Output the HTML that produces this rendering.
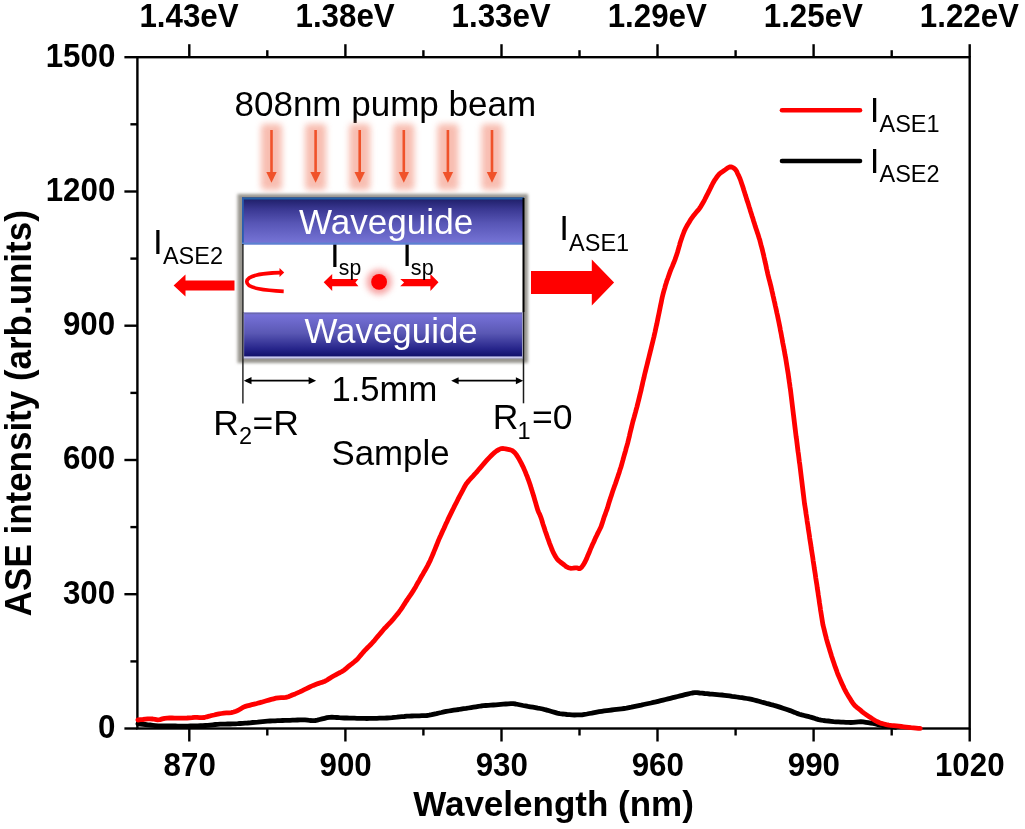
<!DOCTYPE html>
<html><head><meta charset="utf-8"><style>
html,body{margin:0;padding:0;background:#fff;}
svg{display:block;}
</style></head><body>
<svg width="1025" height="829" viewBox="0 0 1025 829">
<defs>
<filter id="glow" x="-1" y="-1" width="3" height="3"><feGaussianBlur stdDeviation="3.2"/></filter>
<filter id="glow2" x="-1" y="-1" width="3" height="3"><feGaussianBlur stdDeviation="3"/></filter>
<filter id="sh" x="-0.2" y="-0.2" width="1.4" height="1.4"><feGaussianBlur stdDeviation="1.5"/></filter>
<linearGradient id="gtop" x1="0" y1="0" x2="0" y2="1"><stop offset="0" stop-color="#1c1c64"/><stop offset="0.25" stop-color="#3a3892"/><stop offset="0.55" stop-color="#5856b6"/><stop offset="1" stop-color="#7876d8"/></linearGradient>
<linearGradient id="gbot" x1="0" y1="0" x2="0" y2="1"><stop offset="0" stop-color="#7a74dc"/><stop offset="0.45" stop-color="#5a58b4"/><stop offset="0.8" stop-color="#26248a"/><stop offset="1" stop-color="#0c0c62"/></linearGradient>
</defs>
<rect width="1025" height="829" fill="#fff"/>
<rect x="137.4" y="57.2" width="832.3000000000001" height="671.3" fill="none" stroke="#000" stroke-width="2.4"/>
<line x1="189.3" y1="728.5" x2="189.3" y2="741.5" stroke="#000" stroke-width="2.4"/>
<line x1="189.3" y1="57.2" x2="189.3" y2="44.2" stroke="#000" stroke-width="2.4"/>
<text transform="translate(163.62,775.50) scale(1,1.038)" font-family="'Liberation Sans', Arial, sans-serif" font-weight="bold" font-size="31.30" fill="#000">870</text>
<text transform="translate(139.41,27.30) scale(1,1.038)" font-family="'Liberation Sans', Arial, sans-serif" font-weight="bold" font-size="31.30" fill="#000">1.43eV</text>
<line x1="345.4" y1="728.5" x2="345.4" y2="741.5" stroke="#000" stroke-width="2.4"/>
<line x1="345.4" y1="57.2" x2="345.4" y2="44.2" stroke="#000" stroke-width="2.4"/>
<text transform="translate(319.55,775.50) scale(1,1.038)" font-family="'Liberation Sans', Arial, sans-serif" font-weight="bold" font-size="31.30" fill="#000">900</text>
<text transform="translate(295.49,27.30) scale(1,1.038)" font-family="'Liberation Sans', Arial, sans-serif" font-weight="bold" font-size="31.30" fill="#000">1.38eV</text>
<line x1="501.5" y1="728.5" x2="501.5" y2="741.5" stroke="#000" stroke-width="2.4"/>
<line x1="501.5" y1="57.2" x2="501.5" y2="44.2" stroke="#000" stroke-width="2.4"/>
<text transform="translate(475.63,775.50) scale(1,1.038)" font-family="'Liberation Sans', Arial, sans-serif" font-weight="bold" font-size="31.30" fill="#000">930</text>
<text transform="translate(451.57,27.30) scale(1,1.038)" font-family="'Liberation Sans', Arial, sans-serif" font-weight="bold" font-size="31.30" fill="#000">1.33eV</text>
<line x1="657.5" y1="728.5" x2="657.5" y2="741.5" stroke="#000" stroke-width="2.4"/>
<line x1="657.5" y1="57.2" x2="657.5" y2="44.2" stroke="#000" stroke-width="2.4"/>
<text transform="translate(631.71,775.50) scale(1,1.038)" font-family="'Liberation Sans', Arial, sans-serif" font-weight="bold" font-size="31.30" fill="#000">960</text>
<text transform="translate(607.65,27.30) scale(1,1.038)" font-family="'Liberation Sans', Arial, sans-serif" font-weight="bold" font-size="31.30" fill="#000">1.29eV</text>
<line x1="813.6" y1="728.5" x2="813.6" y2="741.5" stroke="#000" stroke-width="2.4"/>
<line x1="813.6" y1="57.2" x2="813.6" y2="44.2" stroke="#000" stroke-width="2.4"/>
<text transform="translate(787.79,775.50) scale(1,1.038)" font-family="'Liberation Sans', Arial, sans-serif" font-weight="bold" font-size="31.30" fill="#000">990</text>
<text transform="translate(763.73,27.30) scale(1,1.038)" font-family="'Liberation Sans', Arial, sans-serif" font-weight="bold" font-size="31.30" fill="#000">1.25eV</text>
<line x1="969.7" y1="728.5" x2="969.7" y2="741.5" stroke="#000" stroke-width="2.4"/>
<line x1="969.7" y1="57.2" x2="969.7" y2="44.2" stroke="#000" stroke-width="2.4"/>
<text transform="translate(934.95,775.50) scale(1,1.038)" font-family="'Liberation Sans', Arial, sans-serif" font-weight="bold" font-size="31.30" fill="#000">1020</text>
<text transform="translate(919.81,27.30) scale(1,1.038)" font-family="'Liberation Sans', Arial, sans-serif" font-weight="bold" font-size="31.30" fill="#000">1.22eV</text>
<line x1="267.3" y1="728.5" x2="267.3" y2="735.5" stroke="#000" stroke-width="2.4"/>
<line x1="267.3" y1="57.2" x2="267.3" y2="50.2" stroke="#000" stroke-width="2.4"/>
<line x1="423.4" y1="728.5" x2="423.4" y2="735.5" stroke="#000" stroke-width="2.4"/>
<line x1="423.4" y1="57.2" x2="423.4" y2="50.2" stroke="#000" stroke-width="2.4"/>
<line x1="579.5" y1="728.5" x2="579.5" y2="735.5" stroke="#000" stroke-width="2.4"/>
<line x1="579.5" y1="57.2" x2="579.5" y2="50.2" stroke="#000" stroke-width="2.4"/>
<line x1="735.6" y1="728.5" x2="735.6" y2="735.5" stroke="#000" stroke-width="2.4"/>
<line x1="735.6" y1="57.2" x2="735.6" y2="50.2" stroke="#000" stroke-width="2.4"/>
<line x1="891.7" y1="728.5" x2="891.7" y2="735.5" stroke="#000" stroke-width="2.4"/>
<line x1="891.7" y1="57.2" x2="891.7" y2="50.2" stroke="#000" stroke-width="2.4"/>
<line x1="137.4" y1="728.5" x2="124.4" y2="728.5" stroke="#000" stroke-width="2.4"/>
<text transform="translate(97.94,738.00) scale(1,1.038)" font-family="'Liberation Sans', Arial, sans-serif" font-weight="bold" font-size="31.30" fill="#000">0</text>
<line x1="137.4" y1="594.2" x2="124.4" y2="594.2" stroke="#000" stroke-width="2.4"/>
<text transform="translate(62.88,603.74) scale(1,1.038)" font-family="'Liberation Sans', Arial, sans-serif" font-weight="bold" font-size="31.30" fill="#000">300</text>
<line x1="137.4" y1="460.0" x2="124.4" y2="460.0" stroke="#000" stroke-width="2.4"/>
<text transform="translate(62.88,469.48) scale(1,1.038)" font-family="'Liberation Sans', Arial, sans-serif" font-weight="bold" font-size="31.30" fill="#000">600</text>
<line x1="137.4" y1="325.7" x2="124.4" y2="325.7" stroke="#000" stroke-width="2.4"/>
<text transform="translate(62.88,335.22) scale(1,1.038)" font-family="'Liberation Sans', Arial, sans-serif" font-weight="bold" font-size="31.30" fill="#000">900</text>
<line x1="137.4" y1="191.5" x2="124.4" y2="191.5" stroke="#000" stroke-width="2.4"/>
<text transform="translate(45.67,200.96) scale(1,1.038)" font-family="'Liberation Sans', Arial, sans-serif" font-weight="bold" font-size="31.30" fill="#000">1200</text>
<line x1="137.4" y1="57.2" x2="124.4" y2="57.2" stroke="#000" stroke-width="2.4"/>
<text transform="translate(45.67,66.70) scale(1,1.038)" font-family="'Liberation Sans', Arial, sans-serif" font-weight="bold" font-size="31.30" fill="#000">1500</text>
<line x1="137.4" y1="661.4" x2="130.4" y2="661.4" stroke="#000" stroke-width="2.4"/>
<line x1="137.4" y1="527.1" x2="130.4" y2="527.1" stroke="#000" stroke-width="2.4"/>
<line x1="137.4" y1="392.9" x2="130.4" y2="392.9" stroke="#000" stroke-width="2.4"/>
<line x1="137.4" y1="258.6" x2="130.4" y2="258.6" stroke="#000" stroke-width="2.4"/>
<line x1="137.4" y1="124.3" x2="130.4" y2="124.3" stroke="#000" stroke-width="2.4"/>
<text transform="translate(413.20,816.30)" font-family="'Liberation Sans', Arial, sans-serif" font-weight="bold" font-size="35.00" fill="#000">Wavelength (nm)</text>
<g transform="translate(30.50,615.10) rotate(-90)"><text transform="translate(-1.05,0) scale(1,1.030)" font-family="'Liberation Sans', Arial, sans-serif" font-weight="bold" font-size="34.97" fill="#000">ASE intensity (arb.units)</text></g>
<polyline points="137.9,723.9 140.5,724.1 142.9,724.3 145.4,724.5 147.9,724.8 150.3,725.0 152.8,725.3 155.3,725.6 157.8,725.9 160.3,726.0 162.8,726.0 165.3,726.0 167.8,726.0 170.3,726.0 172.8,725.9 175.3,726.0 177.8,726.1 180.3,726.2 182.8,726.2 185.3,726.2 187.8,726.1 190.3,726.0 192.8,725.9 195.3,725.8 197.8,725.8 200.3,725.7 202.8,725.6 205.3,725.5 207.8,725.4 210.2,725.1 212.7,724.8 215.2,724.5 217.7,724.3 220.2,724.2 222.7,724.1 225.2,724.1 227.7,724.0 230.2,724.0 232.7,723.9 235.2,723.8 237.7,723.7 240.2,723.5 242.7,723.3 245.2,723.1 247.6,723.0 250.1,722.8 252.6,722.5 255.1,722.3 257.6,722.1 260.1,721.8 262.6,721.6 265.1,721.4 267.6,721.2 270.1,721.0 272.6,720.9 275.1,720.8 277.6,720.7 280.1,720.6 282.6,720.5 285.0,720.4 287.5,720.3 290.0,720.3 292.5,720.2 295.0,720.1 297.5,720.0 300.0,719.9 302.5,719.8 305.0,719.9 307.5,720.1 310.0,720.5 312.4,720.7 314.9,720.6 317.3,720.1 319.7,719.5 322.1,718.9 324.6,718.3 327.0,717.7 329.4,717.3 331.9,717.2 334.4,717.3 336.9,717.5 339.4,717.7 341.9,717.8 344.4,718.0 346.9,718.0 349.4,718.1 351.9,718.2 354.4,718.2 356.9,718.3 359.4,718.3 361.9,718.4 364.4,718.4 366.9,718.5 369.4,718.4 371.9,718.4 374.4,718.3 376.9,718.3 379.4,718.2 381.9,718.2 384.4,718.1 386.9,718.0 389.4,717.9 391.9,717.7 394.3,717.4 396.8,717.2 399.3,716.9 401.8,716.7 404.3,716.5 406.8,716.2 409.3,716.1 411.8,716.0 414.3,715.9 416.8,715.9 419.3,715.8 421.8,715.7 424.3,715.7 426.8,715.5 429.2,715.2 431.7,714.7 434.1,714.1 436.5,713.6 439.0,713.0 441.4,712.5 443.9,711.9 446.3,711.4 448.8,711.0 451.2,710.6 453.7,710.2 456.2,709.8 458.7,709.5 461.1,709.1 463.6,708.7 466.1,708.4 468.5,708.0 471.0,707.6 473.5,707.2 475.9,706.8 478.4,706.4 480.9,706.0 483.4,705.7 485.9,705.5 488.3,705.4 490.8,705.2 493.3,705.0 495.8,704.8 498.3,704.6 500.8,704.4 503.3,704.2 505.8,704.0 508.3,703.8 510.8,703.6 513.3,703.7 515.7,704.0 518.2,704.5 520.6,705.0 523.1,705.5 525.5,705.9 528.0,706.4 530.4,706.8 532.9,707.2 535.4,707.6 537.8,708.1 540.3,708.5 542.7,709.0 545.2,709.7 547.6,710.3 550.0,711.0 552.4,711.7 554.8,712.4 557.2,713.1 559.6,713.6 562.1,714.0 564.6,714.2 567.0,714.5 569.5,714.7 572.0,714.9 574.5,715.0 577.0,714.9 579.5,714.9 582.0,714.8 584.5,714.4 586.9,714.0 589.4,713.5 591.8,713.1 594.3,712.6 596.8,712.1 599.2,711.7 601.7,711.3 604.2,710.9 606.6,710.6 609.1,710.3 611.6,710.0 614.1,709.7 616.6,709.4 619.0,709.1 621.5,708.8 624.0,708.5 626.5,708.2 628.9,707.7 631.4,707.2 633.8,706.6 636.3,706.1 638.7,705.6 641.2,705.1 643.6,704.5 646.0,704.0 648.5,703.5 650.9,703.0 653.4,702.4 655.8,701.9 658.2,701.3 660.7,700.7 663.1,700.1 665.5,699.5 668.0,698.9 670.4,698.3 672.8,697.7 675.2,697.1 677.7,696.5 680.1,695.9 682.5,695.3 684.9,694.7 687.4,694.1 689.8,693.5 692.2,693.0 694.7,692.7 697.2,692.7 699.6,693.0 702.1,693.2 704.6,693.5 707.1,693.7 709.6,694.0 712.1,694.2 714.6,694.4 717.1,694.6 719.5,694.8 722.0,695.0 724.5,695.3 727.0,695.6 729.5,695.9 732.0,696.3 734.4,696.6 736.9,697.0 739.4,697.4 741.9,697.7 744.3,698.1 746.8,698.5 749.3,698.9 751.7,699.4 754.1,700.0 756.5,700.6 758.9,701.3 761.4,702.0 763.8,702.6 766.2,703.3 768.6,703.9 771.0,704.6 773.4,705.2 775.8,705.9 778.2,706.6 780.6,707.4 783.0,708.2 785.4,709.0 787.7,709.8 790.1,710.6 792.4,711.5 794.7,712.4 797.0,713.4 799.4,714.2 801.8,714.9 804.2,715.5 806.6,716.1 809.1,716.7 811.5,717.4 813.9,718.1 816.2,718.9 818.6,719.6 821.1,720.1 823.5,720.5 826.0,720.8 828.5,721.0 831.0,721.3 833.5,721.6 836.0,721.8 838.5,721.9 841.0,722.1 843.4,722.2 845.9,722.3 848.4,722.4 850.9,722.5 853.4,722.4 855.9,722.1 858.4,721.8 860.8,721.7 863.3,721.9 865.8,722.3 868.2,722.7 870.7,723.1 873.2,723.5 875.6,724.0 878.0,724.6 880.5,725.2 882.9,725.7 885.4,726.0 887.9,726.3 890.4,726.6 892.7,726.9 895.8,727.3" fill="none" stroke="#000" stroke-width="4.8" stroke-linejoin="round" stroke-linecap="round"/>
<polyline points="137.9,720.0 140.5,719.7 142.9,719.5 145.4,719.2 147.8,718.9 150.3,718.8 152.8,719.0 155.2,719.4 157.6,719.8 160.0,719.6 162.3,718.9 164.7,718.3 167.1,718.1 169.6,718.0 172.1,718.0 174.6,718.1 177.1,718.2 179.6,718.2 182.1,718.2 184.6,718.1 187.1,718.0 189.6,717.8 192.1,717.6 194.6,717.3 197.0,717.4 199.5,717.6 202.0,717.7 204.4,717.5 206.8,716.8 209.2,716.2 211.6,715.5 214.1,715.0 216.5,714.4 219.0,713.9 221.4,713.5 223.9,713.1 226.4,712.9 228.8,712.9 231.3,712.6 233.7,712.0 236.0,711.2 238.3,710.3 240.4,709.0 242.5,707.7 244.7,706.6 247.1,705.9 249.5,705.3 251.9,704.7 254.3,704.1 256.8,703.5 259.2,702.8 261.6,702.2 264.0,701.5 266.4,700.8 268.8,700.1 271.2,699.4 273.6,698.8 276.0,698.2 278.5,697.8 281.0,697.7 283.5,697.7 285.9,697.4 288.3,696.7 290.6,695.8 292.9,694.8 295.2,693.9 297.5,692.9 299.8,691.9 302.0,690.8 304.3,689.7 306.5,688.6 308.8,687.5 311.0,686.4 313.3,685.4 315.6,684.5 318.0,683.6 320.4,682.8 322.7,682.1 325.0,681.2 327.2,680.0 329.3,678.6 331.4,677.3 333.5,676.0 335.7,674.8 337.9,673.6 340.1,672.5 342.3,671.3 344.4,669.9 346.3,668.3 348.2,666.7 350.1,665.1 352.1,663.6 354.1,662.0 356.0,660.4 357.8,658.7 359.4,656.8 361.0,654.9 362.6,653.0 364.2,651.1 366.0,649.3 367.7,647.5 369.5,645.8 371.3,644.0 372.9,642.2 374.6,640.3 376.2,638.3 377.8,636.4 379.4,634.5 381.0,632.6 382.6,630.7 384.2,628.8 386.0,627.0 387.7,625.2 389.4,623.4 391.1,621.6 392.8,619.7 394.4,617.7 396.0,615.8 397.5,613.9 399.1,611.9 400.6,609.9 402.0,607.9 403.3,605.8 404.7,603.6 406.0,601.5 407.4,599.5 408.8,597.4 410.2,595.4 411.6,593.3 413.0,591.2 414.3,589.0 415.6,586.9 416.8,584.7 418.0,582.5 419.3,580.4 420.5,578.2 421.7,576.0 423.0,573.9 424.2,571.7 425.5,569.5 426.7,567.3 427.9,565.1 429.0,562.9 430.1,560.7 431.1,558.4 432.1,556.1 433.1,553.8 434.0,551.5 435.0,549.1 435.9,546.8 436.9,544.5 437.8,542.2 438.7,539.9 439.7,537.6 440.8,535.3 441.8,533.0 442.8,530.8 443.9,528.5 444.9,526.2 445.9,523.9 447.0,521.7 448.0,519.4 449.1,517.1 450.2,514.9 451.3,512.6 452.4,510.4 453.5,508.2 454.6,505.9 455.8,503.7 456.9,501.5 458.0,499.2 459.2,497.0 460.3,494.8 461.5,492.6 462.7,490.4 463.8,488.2 465.0,486.0 466.3,483.8 467.8,481.9 469.4,480.0 471.1,478.1 472.8,476.3 474.5,474.4 476.2,472.6 477.8,470.7 479.4,468.8 481.1,466.9 482.7,465.0 484.3,463.1 486.0,461.2 487.6,459.4 489.3,457.6 491.1,455.8 492.9,454.0 494.7,452.4 496.7,450.9 498.8,449.6 501.0,448.6 503.3,448.5 505.6,448.9 508.0,449.4 510.4,449.9 512.6,450.8 514.4,452.3 516.0,454.2 517.4,456.3 518.7,458.4 519.9,460.6 521.1,462.8 522.2,465.1 523.3,467.3 524.3,469.6 525.3,471.9 526.2,474.2 527.2,476.5 528.0,478.9 528.9,481.2 529.7,483.6 530.5,485.9 531.2,488.3 532.0,490.7 532.7,493.1 533.5,495.5 534.2,497.9 534.9,500.3 535.6,502.7 536.3,505.1 537.0,507.5 537.7,509.9 538.6,512.2 539.7,514.4 540.6,516.7 541.5,519.1 542.2,521.5 542.9,523.9 543.7,526.3 544.5,528.6 545.2,531.0 546.1,533.4 546.9,535.7 547.7,538.1 548.6,540.4 549.4,542.8 550.3,545.1 551.2,547.4 552.1,549.8 553.1,552.1 554.3,554.3 555.5,556.5 556.8,558.6 558.4,560.4 560.3,562.0 562.3,563.5 564.3,565.0 566.2,566.6 568.3,567.7 570.6,568.3 573.0,568.2 575.3,567.8 577.2,567.8 578.7,568.5 580.1,568.5 581.7,567.1 583.1,565.2 584.4,563.1 585.5,560.9 586.6,558.6 587.5,556.3 588.5,554.0 589.5,551.7 590.4,549.4 591.4,547.1 592.4,544.8 593.5,542.5 594.5,540.2 595.5,537.9 596.6,535.7 597.7,533.4 598.8,531.2 599.9,529.0 601.0,526.7 601.8,524.4 602.6,522.0 603.4,519.6 604.1,517.2 605.0,514.9 605.8,512.5 606.7,510.2 607.5,507.8 608.2,505.4 608.9,503.0 609.7,500.6 610.4,498.3 611.2,495.9 612.0,493.5 612.8,491.1 613.6,488.8 614.4,486.4 615.3,484.1 616.1,481.7 616.9,479.3 617.7,477.0 618.5,474.6 619.3,472.2 620.0,469.8 620.8,467.5 621.5,465.1 622.2,462.7 622.9,460.2 623.5,457.8 624.2,455.4 624.9,453.0 625.6,450.6 626.2,448.2 626.9,445.8 627.6,443.4 628.2,441.0 628.8,438.5 629.4,436.1 629.9,433.7 630.5,431.2 631.1,428.8 631.7,426.4 632.3,424.0 632.9,421.5 633.6,419.1 634.3,416.7 634.9,414.3 635.6,411.9 636.2,409.5 636.9,407.1 637.5,404.7 638.1,402.2 638.7,399.8 639.3,397.4 639.9,394.9 640.5,392.5 641.1,390.1 641.6,387.6 642.2,385.2 642.7,382.8 643.3,380.3 643.9,377.9 644.4,375.5 645.0,373.0 645.6,370.6 646.2,368.2 646.8,365.7 647.4,363.3 648.0,360.9 648.6,358.5 649.2,356.0 649.8,353.6 650.4,351.2 651.0,348.8 651.6,346.3 652.2,343.9 652.8,341.5 653.4,339.0 654.0,336.6 654.5,334.2 655.1,331.7 655.6,329.3 656.1,326.9 656.7,324.4 657.2,322.0 657.7,319.5 658.2,317.1 658.7,314.6 659.2,312.2 659.7,309.7 660.2,307.3 660.7,304.8 661.2,302.4 661.7,299.9 662.2,297.5 662.8,295.0 663.4,292.6 664.1,290.2 664.8,287.8 665.4,285.4 666.2,283.0 666.9,280.6 667.8,278.3 668.6,275.9 669.4,273.6 670.3,271.2 671.2,268.9 672.2,266.6 673.1,264.3 674.1,262.0 675.0,259.6 675.8,257.3 676.6,254.9 677.4,252.5 678.1,250.1 678.8,247.7 679.5,245.3 680.1,242.9 680.9,240.5 681.7,238.2 682.5,235.8 683.4,233.5 684.3,231.1 685.3,228.9 686.5,226.7 687.7,224.5 689.0,222.4 690.3,220.2 691.7,218.2 693.2,216.1 694.7,214.2 696.3,212.3 697.9,210.4 699.5,208.4 700.9,206.3 702.1,204.2 703.4,202.0 704.6,199.8 705.7,197.6 706.8,195.4 708.0,193.1 709.1,190.9 710.2,188.7 711.3,186.4 712.4,184.2 713.6,182.0 714.9,179.8 716.3,177.8 717.8,175.8 719.4,173.9 721.3,172.4 723.4,171.0 725.4,169.6 727.4,168.1 729.4,167.0 731.4,166.9 733.5,167.9 735.3,169.4 736.7,171.4 737.7,173.7 738.8,175.9 739.8,178.2 740.7,180.5 741.5,182.9 742.3,185.3 743.1,187.6 743.8,190.0 744.6,192.4 745.3,194.8 746.1,197.2 746.8,199.6 747.6,201.9 748.4,204.3 749.1,206.7 749.9,209.1 750.6,211.5 751.4,213.9 752.1,216.2 752.9,218.6 753.6,221.0 754.4,223.4 755.1,225.8 755.9,228.2 756.7,230.5 757.5,232.9 758.3,235.3 759.0,237.7 759.8,240.1 760.4,242.5 761.0,244.9 761.7,247.3 762.3,249.7 762.9,252.2 763.5,254.6 764.0,257.0 764.6,259.5 765.1,261.9 765.7,264.3 766.2,266.8 766.7,269.2 767.3,271.7 767.8,274.1 768.4,276.5 769.0,278.9 769.7,281.4 770.3,283.8 770.9,286.2 771.5,288.7 772.0,291.1 772.6,293.5 773.1,296.0 773.7,298.4 774.2,300.8 774.8,303.3 775.3,305.7 775.9,308.2 776.4,310.6 776.9,313.0 777.5,315.5 778.0,317.9 778.5,320.4 779.0,322.8 779.5,325.3 780.0,327.7 780.4,330.2 780.9,332.6 781.4,335.1 781.8,337.6 782.3,340.0 782.7,342.5 783.2,344.9 783.7,347.4 784.1,349.8 784.6,352.3 785.0,354.8 785.5,357.2 785.9,359.7 786.3,362.2 786.7,364.6 787.1,367.1 787.5,369.6 787.9,372.0 788.3,374.5 788.6,377.0 789.0,379.5 789.3,381.9 789.7,384.4 790.0,386.9 790.4,389.4 790.7,391.8 791.0,394.3 791.3,396.8 791.6,399.3 791.9,401.8 792.2,404.2 792.5,406.7 792.8,409.2 793.1,411.7 793.4,414.2 793.7,416.6 794.0,419.1 794.3,421.6 794.6,424.1 794.9,426.6 795.2,429.1 795.5,431.5 795.8,434.0 796.1,436.5 796.5,439.0 796.8,441.5 797.1,443.9 797.4,446.4 797.7,448.9 798.0,451.4 798.4,453.9 798.7,456.3 799.0,458.8 799.3,461.3 799.7,463.8 800.0,466.3 800.3,468.7 800.6,471.2 800.9,473.7 801.2,476.2 801.5,478.7 801.8,481.1 802.1,483.6 802.4,486.1 802.7,488.6 803.0,491.1 803.3,493.6 803.6,496.0 803.9,498.5 804.2,501.0 804.5,503.5 804.9,505.9 805.3,508.4 805.7,510.9 806.0,513.4 806.4,515.8 806.8,518.3 807.1,520.8 807.5,523.3 807.9,525.7 808.2,528.2 808.6,530.7 809.0,533.1 809.4,535.6 809.7,538.1 810.1,540.6 810.5,543.0 810.9,545.5 811.2,548.0 811.6,550.4 812.0,552.9 812.4,555.4 812.8,557.9 813.1,560.3 813.5,562.8 813.9,565.3 814.2,567.7 814.6,570.2 815.0,572.7 815.4,575.2 815.7,577.6 816.1,580.1 816.5,582.6 816.9,585.0 817.2,587.5 817.6,590.0 818.0,592.5 818.3,594.9 818.7,597.4 819.1,599.9 819.4,602.4 819.8,604.8 820.2,607.3 820.5,609.8 820.9,612.2 821.3,614.7 821.7,617.2 822.1,619.7 822.5,622.1 822.9,624.6 823.5,627.0 824.1,629.4 824.7,631.9 825.3,634.3 825.9,636.7 826.5,639.1 827.2,641.6 827.9,644.0 828.6,646.3 829.3,648.7 830.0,651.1 830.8,653.5 831.5,655.9 832.3,658.3 833.1,660.7 833.9,663.0 834.7,665.4 835.5,667.7 836.4,670.1 837.2,672.5 838.1,674.8 839.1,677.1 840.1,679.4 841.1,681.7 842.1,683.9 843.2,686.2 844.2,688.5 845.3,690.7 846.5,692.9 847.8,695.1 849.1,697.2 850.4,699.3 851.7,701.4 853.1,703.5 854.7,705.4 856.5,707.1 858.5,708.7 860.4,710.2 862.3,711.8 864.3,713.4 866.3,714.8 868.4,716.2 870.5,717.6 872.6,719.0 874.7,720.3 876.9,721.5 879.1,722.5 881.5,723.4 883.9,724.0 886.3,724.6 888.8,725.1 891.2,725.4 893.7,725.6 896.2,725.9 898.7,726.2 901.2,726.5 903.7,726.8 906.1,727.1 908.6,727.4 911.1,727.7 913.6,727.9 916.1,728.1 918.3,728.3 920.2,728.4" fill="none" stroke="#f00" stroke-width="4.8" stroke-linejoin="round" stroke-linecap="round"/>
<line x1="782" y1="110.2" x2="860" y2="110.2" stroke="#f00" stroke-width="4.6" stroke-linecap="round"/>
<line x1="782" y1="161" x2="860" y2="161" stroke="#000" stroke-width="4.6" stroke-linecap="round"/>
<text transform="translate(869.65,122.00) scale(1,1.002)" font-family="'Liberation Sans', Arial, sans-serif" font-weight="normal" font-size="35.00" fill="#000">I</text>
<text transform="translate(879.50,132.20) scale(1,1.040)" font-family="'Liberation Sans', Arial, sans-serif" font-weight="normal" font-size="23.50" fill="#000">ASE1</text>
<text transform="translate(869.65,172.60) scale(1,0.998)" font-family="'Liberation Sans', Arial, sans-serif" font-weight="normal" font-size="35.00" fill="#000">I</text>
<text transform="translate(879.50,182.30) scale(1,1.040)" font-family="'Liberation Sans', Arial, sans-serif" font-weight="normal" font-size="23.50" fill="#000">ASE2</text>
<text transform="translate(234.50,116.20)" font-family="'Liberation Sans', Arial, sans-serif" font-weight="normal" font-size="35.00" fill="#000">808nm pump beam</text>
<rect x="261.0" y="124" width="21" height="66" rx="4" fill="#f5a493" filter="url(#glow)" opacity="0.72"/>
<rect x="305.1" y="124" width="21" height="66" rx="4" fill="#f5a493" filter="url(#glow)" opacity="0.72"/>
<rect x="349.2" y="124" width="21" height="66" rx="4" fill="#f5a493" filter="url(#glow)" opacity="0.72"/>
<rect x="393.3" y="124" width="21" height="66" rx="4" fill="#f5a493" filter="url(#glow)" opacity="0.72"/>
<rect x="437.4" y="124" width="21" height="66" rx="4" fill="#f5a493" filter="url(#glow)" opacity="0.72"/>
<rect x="481.5" y="124" width="21" height="66" rx="4" fill="#f5a493" filter="url(#glow)" opacity="0.72"/>
<line x1="271.5" y1="130" x2="271.5" y2="174" stroke="#f0522a" stroke-width="2.6"/>
<polygon points="266.3,172 276.7,172 271.5,182.8" fill="#f0522a"/>
<line x1="315.6" y1="130" x2="315.6" y2="174" stroke="#f0522a" stroke-width="2.6"/>
<polygon points="310.4,172 320.8,172 315.6,182.8" fill="#f0522a"/>
<line x1="359.7" y1="130" x2="359.7" y2="174" stroke="#f0522a" stroke-width="2.6"/>
<polygon points="354.5,172 364.9,172 359.7,182.8" fill="#f0522a"/>
<line x1="403.8" y1="130" x2="403.8" y2="174" stroke="#f0522a" stroke-width="2.6"/>
<polygon points="398.6,172 409.0,172 403.8,182.8" fill="#f0522a"/>
<line x1="447.9" y1="130" x2="447.9" y2="174" stroke="#f0522a" stroke-width="2.6"/>
<polygon points="442.7,172 453.1,172 447.9,182.8" fill="#f0522a"/>
<line x1="492.0" y1="130" x2="492.0" y2="174" stroke="#f0522a" stroke-width="2.6"/>
<polygon points="486.8,172 497.2,172 492.0,182.8" fill="#f0522a"/>
<rect x="237.5" y="194" width="290.5" height="169" fill="#999690" filter="url(#sh)"/>
<rect x="242.5" y="244" width="281" height="69" fill="#fff"/>
<text transform="translate(330.05,266.60) scale(1,1.020)" font-family="'Liberation Sans', Arial, sans-serif" font-weight="normal" font-size="35.00" fill="#000">I</text>
<text transform="translate(402.25,266.30) scale(1,1.020)" font-family="'Liberation Sans', Arial, sans-serif" font-weight="normal" font-size="35.00" fill="#000">I</text>
<rect x="242" y="197.5" width="282" height="47" fill="url(#gtop)"/>
<rect x="242" y="197.5" width="282" height="2" fill="#2262a6"/>
<rect x="242" y="197.5" width="1.8" height="47" fill="#2a5cae"/>
<rect x="242" y="242.6" width="282" height="1.9" fill="#5a82d0"/>
<rect x="242.5" y="312.6" width="281.5" height="45.6" fill="url(#gbot)"/>
<rect x="242.5" y="312.6" width="281.5" height="1.6" fill="#6a68b0"/>
<rect x="242.5" y="356.4" width="281.5" height="2.1" fill="#c8c8f0"/>
<rect x="242.5" y="312.6" width="1.6" height="45.8" fill="#c8c8f0"/>
<rect x="522" y="312.6" width="1.6" height="45.8" fill="#c8c8f0"/>
<line x1="242.9" y1="244" x2="242.9" y2="403.6" stroke="#1a1a1a" stroke-width="1.4"/>
<line x1="523.5" y1="198" x2="523.5" y2="312" stroke="#000" stroke-width="2"/>
<line x1="523.5" y1="312" x2="523.5" y2="403.3" stroke="#1a1a1a" stroke-width="1.5"/>
<text transform="translate(298.95,233.90) scale(1,1.025)" font-family="'Liberation Sans', Arial, sans-serif" font-weight="normal" font-size="35.10" fill="#fff">Waveguide</text>
<text transform="translate(304.45,343.00) scale(1,1.025)" font-family="'Liberation Sans', Arial, sans-serif" font-weight="normal" font-size="34.90" fill="#fff">Waveguide</text>
<line x1="246" y1="380.7" x2="313" y2="380.7" stroke="#000" stroke-width="1.7"/>
<polygon points="243.8,380.7 251.5,377.1 251.5,384.3" fill="#000"/>
<polygon points="316.1,380.7 308.6,377.1 308.6,384.3" fill="#000"/>
<line x1="455" y1="380.7" x2="520" y2="380.7" stroke="#000" stroke-width="1.7"/>
<polygon points="451.2,380.7 458.6,377.2 458.6,384.2" fill="#000"/>
<polygon points="523.2,380.7 515.9,377.2 515.9,384.2" fill="#000"/>
<text transform="translate(331.53,401.30) scale(1,1.030)" font-family="'Liberation Sans', Arial, sans-serif" font-weight="normal" font-size="34.60" fill="#000">1.5mm</text>
<text transform="translate(213.36,434.60) scale(1,1.010)" font-family="'Liberation Sans', Arial, sans-serif" font-weight="normal" font-size="35.50" fill="#000">R</text>
<text transform="translate(238.92,444.40)" font-family="'Liberation Sans', Arial, sans-serif" font-weight="normal" font-size="23.50" fill="#000">2</text>
<text transform="translate(252.53,434.60) scale(1,1.010)" font-family="'Liberation Sans', Arial, sans-serif" font-weight="normal" font-size="35.50" fill="#000">=R</text>
<text transform="translate(492.86,429.30)" font-family="'Liberation Sans', Arial, sans-serif" font-weight="normal" font-size="35.50" fill="#000">R</text>
<text transform="translate(517.62,438.50)" font-family="'Liberation Sans', Arial, sans-serif" font-weight="normal" font-size="23.50" fill="#000">1</text>
<text transform="translate(532.02,429.30)" font-family="'Liberation Sans', Arial, sans-serif" font-weight="normal" font-size="35.50" fill="#000">=0</text>
<text transform="translate(331.56,465.00)" font-family="'Liberation Sans', Arial, sans-serif" font-weight="normal" font-size="34.80" fill="#000">Sample</text>
<text transform="translate(153.05,254.00) scale(1,1.020)" font-family="'Liberation Sans', Arial, sans-serif" font-weight="normal" font-size="35.00" fill="#000">I</text>
<text transform="translate(162.90,263.80) scale(1,1.020)" font-family="'Liberation Sans', Arial, sans-serif" font-weight="normal" font-size="23.50" fill="#000">ASE2</text>
<polygon points="173.6,285.6 185.5,274.6 185.5,280.5 234.5,280.5 234.5,290.5 185.5,290.5 185.5,296.5" fill="#f00"/>
<path d="M283.7,291.3 C266,290.6 246.5,288.5 246.8,281.5 C247.5,275 266,273 280.5,272.7" fill="none" stroke="#f00" stroke-width="3.7"/>
<polygon points="284.2,272.5 279.5,268 279.5,277" fill="#f00"/>
<polygon points="323.7,282.3 332.2,274 332.2,278.9 358.4,278.9 355.4,282.5 358.4,286.2 332.2,286.2 332.2,291" fill="#f00"/>
<polygon points="438.5,282.3 430.4,274 430.4,278.9 400.2,278.9 404.1,282.5 400.2,286.2 430.4,286.2 430.4,291" fill="#f00"/>
<circle cx="379.1" cy="281.9" r="12.5" fill="#f58a8a" filter="url(#glow2)" opacity="0.8"/>
<circle cx="379.1" cy="281.9" r="7.9" fill="#f00"/>
<text transform="translate(338.86,275.30) scale(1,1.070)" font-family="'Liberation Sans', Arial, sans-serif" font-weight="normal" font-size="21.20" fill="#000">sp</text>
<text transform="translate(410.85,275.30) scale(1,1.050)" font-family="'Liberation Sans', Arial, sans-serif" font-weight="normal" font-size="21.60" fill="#000">sp</text>
<text transform="translate(559.25,240.40) scale(1,1.020)" font-family="'Liberation Sans', Arial, sans-serif" font-weight="normal" font-size="35.00" fill="#000">I</text>
<text transform="translate(569.10,250.50) scale(1,1.030)" font-family="'Liberation Sans', Arial, sans-serif" font-weight="normal" font-size="23.50" fill="#000">ASE1</text>
<polygon points="531,271.1 591.8,271.1 591.8,259.6 614.1,282.5 591.8,305.5 591.8,294 531,294" fill="#f00"/>
</svg>
</body></html>
